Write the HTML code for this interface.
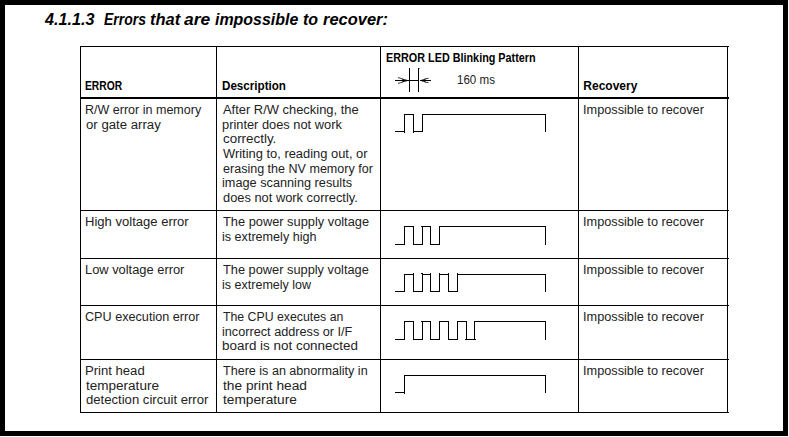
<!DOCTYPE html>
<html><head><meta charset="utf-8"><style>
html,body{margin:0;padding:0;background:#fff;}
body{width:789px;height:437px;position:relative;overflow:hidden;font-family:"Liberation Sans", sans-serif;color:#000;}
.b{position:absolute;background:#000;}
.t{position:absolute;white-space:pre;line-height:20px;transform-origin:0 0;color:#222;}
.h{color:#000;}
</style></head><body>

<div class="b" style="left:0;top:0;width:788px;height:5px"></div>
<div class="b" style="left:0;top:0;width:5px;height:436px"></div>
<div class="b" style="left:783px;top:0;width:5px;height:436px"></div>
<div class="b" style="left:0;top:431px;width:788px;height:5px"></div>
<div class="b" style="left:80px;top:46px;width:649px;height:1px"></div>
<div class="b" style="left:80px;top:97px;width:649px;height:2px"></div>
<div class="b" style="left:80px;top:210px;width:649px;height:1px"></div>
<div class="b" style="left:80px;top:258px;width:649px;height:1px"></div>
<div class="b" style="left:80px;top:305px;width:649px;height:1px"></div>
<div class="b" style="left:80px;top:359px;width:649px;height:1px"></div>
<div class="b" style="left:80px;top:412px;width:649px;height:1px"></div>
<div class="b" style="left:80px;top:46px;width:1px;height:367px"></div>
<div class="b" style="left:216px;top:46px;width:1px;height:367px"></div>
<div class="b" style="left:380px;top:46px;width:1px;height:367px"></div>
<div class="b" style="left:578px;top:46px;width:1px;height:367px"></div>
<div class="b" style="left:727px;top:46px;width:1px;height:367px"></div>
<div class="t" style="left:45.30px;top:10.00px;font-size:17px;font-weight:700;color:#000;font-style:italic;transform:scaleX(0.9519)">4.1.1.3</div>
<div class="t" style="left:104.10px;top:10.00px;font-size:17px;font-weight:700;color:#000;font-style:italic;transform:scaleX(0.8220)">Errors</div>
<div class="t" style="left:149.83px;top:10.00px;font-size:17px;font-weight:700;color:#000;font-style:italic;transform:scaleX(0.9677)">that</div>
<div class="t" style="left:184.40px;top:10.00px;font-size:17px;font-weight:700;color:#000;font-style:italic;transform:scaleX(1.0240)">are</div>
<div class="t" style="left:215.00px;top:10.00px;font-size:17px;font-weight:700;color:#000;font-style:italic;transform:scaleX(0.9375)">impossible</div>
<div class="t" style="left:302.56px;top:10.00px;font-size:17px;font-weight:700;color:#000;font-style:italic;transform:scaleX(0.9400)">to</div>
<div class="t" style="left:322.60px;top:10.00px;font-size:17px;font-weight:700;color:#000;font-style:italic;transform:scaleX(0.9682)">recover:</div>
<div class="t" style="left:85.24px;top:76.00px;font-size:12px;font-weight:700;color:#000;transform:scaleX(0.8571)">ERROR</div>
<div class="t" style="left:221.93px;top:76.00px;font-size:12px;font-weight:700;color:#000;transform:scaleX(0.9692)">Description</div>
<div class="t" style="left:583.30px;top:76.00px;font-size:12px;font-weight:700;color:#000;transform:scaleX(1.0000)">Recovery</div>
<div class="t" style="left:385.90px;top:48.00px;font-size:12px;font-weight:700;color:#000;transform:scaleX(0.9012)">ERROR LED Blinking Pattern</div>
<div class="t" style="left:457.27px;top:70.00px;font-size:12.5px;transform:scaleX(0.9250)">160 ms</div>
<div class="t" style="left:85.00px;top:100.00px;font-size:12.5px;transform:scaleX(1.0017)">R/W error in memory</div>
<div class="t" style="left:86.00px;top:115.00px;font-size:12.5px;transform:scaleX(1.0549)">or gate array</div>
<div class="t" style="left:222.70px;top:100.00px;font-size:12.5px;transform:scaleX(1.0328)">After R/W checking, the</div>
<div class="t" style="left:221.67px;top:115.00px;font-size:12.5px;transform:scaleX(1.0267)">printer does not work</div>
<div class="t" style="left:222.70px;top:129.00px;font-size:12.5px;transform:scaleX(1.0714)">correctly.</div>
<div class="t" style="left:222.70px;top:144.00px;font-size:12.5px;transform:scaleX(1.0314)">Writing to, reading out, or</div>
<div class="t" style="left:222.70px;top:159.00px;font-size:12.5px;transform:scaleX(1.0034)">erasing the NV memory for</div>
<div class="t" style="left:221.68px;top:173.00px;font-size:12.5px;transform:scaleX(1.0175)">image scanning results</div>
<div class="t" style="left:222.70px;top:188.00px;font-size:12.5px;transform:scaleX(1.0285)">does not work correctly.</div>
<div class="t" style="left:583.28px;top:100.00px;font-size:12.5px;transform:scaleX(1.0178)">Impossible to recover</div>
<div class="t" style="left:84.76px;top:212.00px;font-size:12.5px;transform:scaleX(1.0439)">High voltage error</div>
<div class="t" style="left:222.90px;top:212.00px;font-size:12.5px;transform:scaleX(1.0254)">The power supply voltage</div>
<div class="t" style="left:221.89px;top:227.00px;font-size:12.5px;transform:scaleX(1.0076)">is extremely high</div>
<div class="t" style="left:583.28px;top:212.00px;font-size:12.5px;transform:scaleX(1.0178)">Impossible to recover</div>
<div class="t" style="left:84.87px;top:260.00px;font-size:12.5px;transform:scaleX(1.0292)">Low voltage error</div>
<div class="t" style="left:222.70px;top:260.00px;font-size:12.5px;transform:scaleX(1.0239)">The power supply voltage</div>
<div class="t" style="left:221.70px;top:275.00px;font-size:12.5px;transform:scaleX(1.0023)">is extremely low</div>
<div class="t" style="left:583.28px;top:260.00px;font-size:12.5px;transform:scaleX(1.0178)">Impossible to recover</div>
<div class="t" style="left:84.79px;top:307.00px;font-size:12.5px;transform:scaleX(1.0107)">CPU execution error</div>
<div class="t" style="left:222.70px;top:307.00px;font-size:12.5px;transform:scaleX(0.9844)">The CPU executes an</div>
<div class="t" style="left:221.69px;top:322.00px;font-size:12.5px;transform:scaleX(1.0142)">incorrect address or I/F</div>
<div class="t" style="left:221.63px;top:336.00px;font-size:12.5px;transform:scaleX(1.0744)">board is not connected</div>
<div class="t" style="left:583.28px;top:307.00px;font-size:12.5px;transform:scaleX(1.0178)">Impossible to recover</div>
<div class="t" style="left:84.85px;top:361.00px;font-size:12.5px;transform:scaleX(1.0473)">Print head</div>
<div class="t" style="left:85.90px;top:376.00px;font-size:12.5px;transform:scaleX(1.0821)">temperature</div>
<div class="t" style="left:85.90px;top:390.00px;font-size:12.5px;transform:scaleX(1.0487)">detection circuit error</div>
<div class="t" style="left:222.70px;top:361.00px;font-size:12.5px;transform:scaleX(1.0056)">There is an abnormality in</div>
<div class="t" style="left:222.70px;top:376.00px;font-size:12.5px;transform:scaleX(1.0987)">the print head</div>
<div class="t" style="left:222.70px;top:390.00px;font-size:12.5px;transform:scaleX(1.0970)">temperature</div>
<div class="t" style="left:583.28px;top:361.00px;font-size:12.5px;transform:scaleX(1.0178)">Impossible to recover</div>
<svg style="position:absolute;left:0;top:0" width="789" height="437" viewBox="0 0 789 437" shape-rendering="crispEdges">
<rect x="395" y="131" width="10" height="1" fill="#000"/>
<rect x="404" y="114" width="1" height="18" fill="#000"/>
<rect x="404" y="114" width="10" height="1" fill="#000"/>
<rect x="413" y="114" width="1" height="18" fill="#000"/>
<rect x="413" y="131" width="10" height="1" fill="#000"/>
<rect x="422" y="114" width="1" height="18" fill="#000"/>
<rect x="422" y="114" width="124" height="1" fill="#000"/>
<rect x="545" y="114" width="1" height="18" fill="#000"/>
<rect x="395" y="244" width="10" height="1" fill="#000"/>
<rect x="404" y="226" width="1" height="19" fill="#000"/>
<rect x="404" y="226" width="10" height="1" fill="#000"/>
<rect x="413" y="226" width="1" height="19" fill="#000"/>
<rect x="413" y="244" width="10" height="1" fill="#000"/>
<rect x="422" y="226" width="1" height="19" fill="#000"/>
<rect x="422" y="226" width="9" height="1" fill="#000"/>
<rect x="430" y="226" width="1" height="19" fill="#000"/>
<rect x="430" y="244" width="10" height="1" fill="#000"/>
<rect x="439" y="226" width="1" height="19" fill="#000"/>
<rect x="439" y="226" width="107" height="1" fill="#000"/>
<rect x="545" y="226" width="1" height="19" fill="#000"/>
<rect x="395" y="291" width="10" height="1" fill="#000"/>
<rect x="404" y="274" width="1" height="18" fill="#000"/>
<rect x="404" y="274" width="10" height="1" fill="#000"/>
<rect x="413" y="274" width="1" height="18" fill="#000"/>
<rect x="413" y="291" width="10" height="1" fill="#000"/>
<rect x="422" y="274" width="1" height="18" fill="#000"/>
<rect x="422" y="274" width="9" height="1" fill="#000"/>
<rect x="430" y="274" width="1" height="18" fill="#000"/>
<rect x="430" y="291" width="10" height="1" fill="#000"/>
<rect x="439" y="274" width="1" height="18" fill="#000"/>
<rect x="439" y="274" width="10" height="1" fill="#000"/>
<rect x="448" y="274" width="1" height="18" fill="#000"/>
<rect x="448" y="291" width="10" height="1" fill="#000"/>
<rect x="457" y="274" width="1" height="18" fill="#000"/>
<rect x="457" y="274" width="89" height="1" fill="#000"/>
<rect x="545" y="274" width="1" height="18" fill="#000"/>
<rect x="395" y="339" width="10" height="1" fill="#000"/>
<rect x="404" y="321" width="1" height="19" fill="#000"/>
<rect x="404" y="321" width="10" height="1" fill="#000"/>
<rect x="413" y="321" width="1" height="19" fill="#000"/>
<rect x="413" y="339" width="10" height="1" fill="#000"/>
<rect x="422" y="321" width="1" height="19" fill="#000"/>
<rect x="422" y="321" width="9" height="1" fill="#000"/>
<rect x="430" y="321" width="1" height="19" fill="#000"/>
<rect x="430" y="339" width="10" height="1" fill="#000"/>
<rect x="439" y="321" width="1" height="19" fill="#000"/>
<rect x="439" y="321" width="10" height="1" fill="#000"/>
<rect x="448" y="321" width="1" height="19" fill="#000"/>
<rect x="448" y="339" width="10" height="1" fill="#000"/>
<rect x="457" y="321" width="1" height="19" fill="#000"/>
<rect x="457" y="321" width="10" height="1" fill="#000"/>
<rect x="466" y="321" width="1" height="19" fill="#000"/>
<rect x="466" y="339" width="9" height="1" fill="#000"/>
<rect x="474" y="321" width="1" height="19" fill="#000"/>
<rect x="474" y="321" width="72" height="1" fill="#000"/>
<rect x="545" y="321" width="1" height="19" fill="#000"/>
<rect x="395" y="392" width="10" height="1" fill="#000"/>
<rect x="404" y="375" width="1" height="18" fill="#000"/>
<rect x="404" y="375" width="142" height="1" fill="#000"/>
<rect x="545" y="375" width="1" height="18" fill="#000"/>
<rect x="404" y="132" width="1" height="1" fill="#000"/>
<rect x="413" y="132" width="1" height="1" fill="#000"/>
<rect x="421" y="226" width="1" height="1" fill="#000"/>
<rect x="413" y="273" width="1" height="1" fill="#000"/>
<rect x="421" y="273" width="1" height="1" fill="#000"/>
<rect x="422" y="273" width="1" height="1" fill="#000"/>
<rect x="430" y="273" width="1" height="1" fill="#000"/>
<rect x="439" y="273" width="1" height="1" fill="#000"/>
<rect x="448" y="273" width="1" height="1" fill="#000"/>
<rect x="457" y="273" width="1" height="1" fill="#000"/>
<rect x="421" y="321" width="1" height="1" fill="#000"/>
<rect x="465" y="339" width="1" height="1" fill="#000"/>
<rect x="475" y="339" width="1" height="1" fill="#000"/>
<rect x="404" y="393" width="1" height="1" fill="#000"/>
</svg>
<svg style="position:absolute;left:0;top:0" width="789" height="437" viewBox="0 0 789 437">
<rect x="409" y="68" width="1" height="24" fill="#000"/>
<rect x="418" y="68" width="1" height="24" fill="#000"/>
<rect x="395" y="80" width="24" height="1" fill="#000"/>
<rect x="420" y="80" width="11" height="1" fill="#000"/>
<rect x="419" y="68" width="1" height="1" fill="#999"/>
<path d="M398,77.6 Q400.5,78.2 403.5,79.2 M398,83.4 Q400.5,82.8 403.5,81.8" fill="none" stroke="#222" stroke-width="0.9"/>
<path d="M402.3,79 Q406,79.3 409,80.5 Q406,81.7 402.3,82 Z" fill="#000"/>
<path d="M424.5,78.9 L428.5,78.3 M424.5,82.1 L428.5,82.7" fill="none" stroke="#222" stroke-width="0.9"/>
<path d="M425.5,79 Q422.5,79.2 419.6,80.5 Q422.5,81.8 425.5,82 Z" fill="#000"/>
</svg>
</body></html>
